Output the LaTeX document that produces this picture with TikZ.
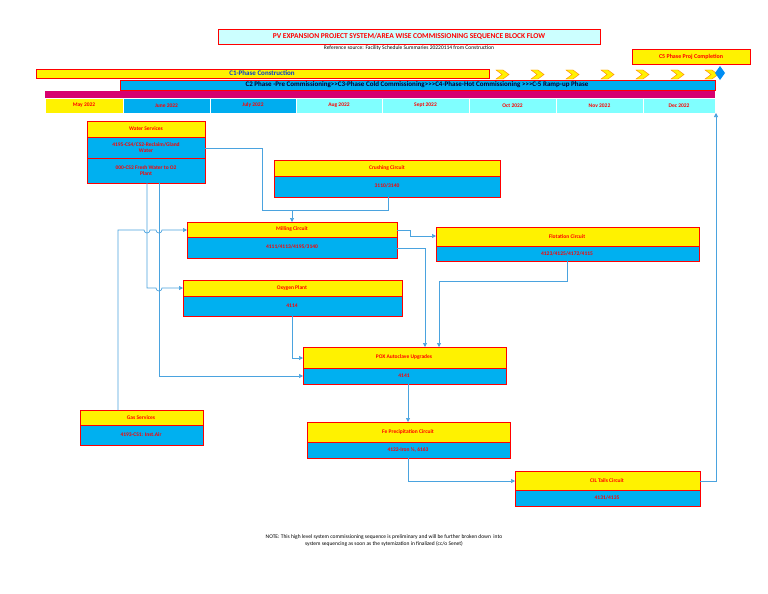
\documentclass[tikz,border=0pt]{standalone}
\usepackage{fontspec}
\setmainfont{Carlito}
\usetikzlibrary{arrows.meta,shapes.geometric}
\definecolor{bl}{HTML}{00B0F0}
\definecolor{ln}{HTML}{4AA3DF}
\definecolor{lc}{HTML}{80FFFF}
\definecolor{mg}{HTML}{D6006F}
\begin{document}
\begin{tikzpicture}[x=1pt,y=-1pt,
  hdr/.style={draw=red,fill=yellow,line width=0.8pt},
  sub/.style={draw=red,fill=bl,line width=0.8pt},
  rt/.style={text=red,font=\bfseries\fontsize{5.5}{6}\selectfont,align=center},
  con/.style={draw=ln,line width=0.7pt},
  arr/.style={con,-{Triangle[length=4pt,width=4pt]}},
  mon/.style={draw=white,line width=0.4pt},
  chev/.style={fill=yellow,draw=orange,line width=0.4pt}]
\useasboundingbox (0,0) rectangle (768,594);
\fill[white] (0,0) rectangle (768,594);
% title
\node[draw=red,fill=lc!40,line width=0.8pt,minimum width=382pt,minimum height=15pt,text=red,font=\bfseries\fontsize{7.5}{8}\selectfont] (title) at (409,36.5) {PV EXPANSION PROJECT SYSTEM/AREA WISE COMMISSIONING SEQUENCE BLOCK FLOW};
\node[font=\fontsize{5.5}{6}\selectfont] (src) at (409,48.5) {Reference source: Facility Schedule Summaries 20220114 from Construction};
\node[hdr,minimum width=118pt,minimum height=15pt,rt,font=\bfseries\fontsize{6}{7}\selectfont] (c5) at (691,56.5) {C5 Phase Proj Completion};
% bars
\draw[hdr] (36,69) rectangle (489,78);
\node[text=blue!70!cyan!80!black,font=\bfseries\fontsize{7}{8}\selectfont] (c1) at (262,73.5) {C1-Phase Construction};
\foreach \cx in {503,538,573,608,643,678,712}{
  \fill[chev] (\cx-7,70) -- (\cx,70) -- (\cx+6,74.5) -- (\cx,79) -- (\cx-7,79) -- (\cx-1,74.5) -- cycle;}
\fill[bl!80!blue] (720,66) -- (725,73) -- (720,80) -- (715,73) -- cycle;
\draw[draw=red,fill=cyan,line width=0.8pt] (120,80) rectangle (715,90);
\node[font=\bfseries\fontsize{7}{8}\selectfont,text=black!80!blue] (c2) at (417,85) {C2 Phase -Pre Commissioning>{}>C3-Phase Cold Commissioning>{}>{}>C4-Phase-Hot Commissioning >{}>{}>C-5 Ramp-up Phase};
\fill[mg] (45,90.5) rectangle (715,98);
% months
\def\mrow#1#2#3#4{\draw[mon,fill=#3] (#1,98) rectangle (#2,113); \node[rt] at ({(#1+#2)/2},105.5) {#4};}
\mrow{45}{123}{yellow}{May 2022}
\mrow{123}{210}{cyan}{June 2022}
\mrow{210}{296}{cyan}{July 2022}
\mrow{296}{382}{lc}{Aug 2022}
\mrow{382}{469}{lc}{Sept 2022}
\mrow{469}{556}{lc}{Oct 2022}
\mrow{556}{643}{lc}{Nov 2022}
\mrow{643}{715}{lc}{Dec 2022}
% blocks
\draw[hdr] (87,121) rectangle (205,137); \node[rt] (ws) at (146,129) {Water Services};
\draw[sub] (87,137) rectangle (205,158); \node[rt] (ws1) at (146,147.5) {4195-CS4/CS2-Reclaim/Gland\\Water};
\draw[sub] (87,158) rectangle (205,183); \node[rt] (ws2) at (146,170.5) {000-CS2 Fresh Water to O2\\Plant};
\draw[hdr] (274,160) rectangle (500,176); \node[rt] (cr) at (387,168) {Crushing Circuit};
\draw[sub] (274,176) rectangle (500,197); \node[rt] (cr1) at (387,186) {3110/3140};
\draw[hdr] (187,222) rectangle (397,237); \node[rt] (mi) at (292,229.5) {Milling Circuit};
\draw[sub] (187,237) rectangle (397,258); \node[rt] (mi1) at (292,247) {4111/4113/4195/3140};
\draw[hdr] (436,227) rectangle (699,246); \node[rt] (fl) at (567,236.5) {Flotation Circuit};
\draw[sub] (436,246) rectangle (699,261); \node[rt] (fl1) at (567,253.5) {4123/4125/4172/4115};
\draw[hdr] (183,280) rectangle (402,296); \node[rt] (ox) at (292,288) {Oxygen Plant};
\draw[sub] (183,296) rectangle (402,316); \node[rt] (ox1) at (292,306) {4114};
\draw[hdr] (303,347) rectangle (506,368); \node[rt] (px) at (404,357.5) {POX Autoclave Upgrades};
\draw[sub] (303,368) rectangle (506,384); \node[rt] (px1) at (404,376) {4141};
\draw[hdr] (80,410) rectangle (203,425); \node[rt] (gs) at (141,417.5) {Gas Services};
\draw[sub] (80,425) rectangle (203,445); \node[rt] (gs1) at (141,435) {4193-CS1: Inst.Air};
\draw[hdr] (307,422) rectangle (510,442); \node[rt] (fe) at (408,432) {Fe Precipitation Circuit};
\draw[sub] (307,442) rectangle (510,458); \node[rt] (fe1) at (408,450) {4122-Iron ½, 6163};
\draw[hdr] (515,471) rectangle (700,490); \node[rt] (cil) at (607,480.5) {CIL Tails Circuit};
\draw[sub] (515,490) rectangle (700,506); \node[rt] (cil1) at (607,498) {4131/4135};
% coordinates
\coordinate (mitop) at (292,222);
\coordinate (fltl) at (436,236);
\coordinate (pxa) at (425,347);
\coordinate (pxb) at (439,347);
\coordinate (pxl1) at (303,358);
\coordinate (pxl2) at (303,376);
\coordinate (oxl) at (183,288);
\coordinate (mil) at (187,230);
\coordinate (fetop) at (408,422);
\coordinate (cill) at (515,481);
\coordinate (dec) at (716,113);
% connectors
\draw[arr] (205,148) -- (262,148) -- (262,210) -- (292,210) -- (mitop);
\draw[con] (388,197) -- (388,210) -- (292,210);
\draw[arr] (397,230) -- (410,230) -- (410,236) -- (fltl);
\draw[arr] (397,248) -- (425,248) -- (pxa);
\draw[arr] (567,261) -- (567,281) -- (439,281) -- (pxb);
\draw[arr] (292,316) -- (292,358) -- (pxl1);
\draw[arr] (147,183) -- (147,288) -- (156,288) arc (180:0:3) -- (oxl);
\draw[arr] (159,183) -- (159,376) -- (pxl2);
\draw[arr] (118,410) -- (118,230) -- (144,230) arc (180:0:3) -- (156,230) arc (180:0:3) -- (mil);
\draw[arr] (408,384) -- (fetop);
\draw[arr] (408,458) -- (408,481) -- (cill);
\draw[arr] (700,481) -- (716,481) -- (dec);
% note
\node[font=\fontsize{5.5}{7}\selectfont,align=center] (note) at (384,541) {NOTE: This high level system commissioning sequence is preliminary and will be further broken down\ \ into\\system sequencing as soon as the sytemization in finalized (cc/o Senet)};
\end{tikzpicture}
\end{document}
